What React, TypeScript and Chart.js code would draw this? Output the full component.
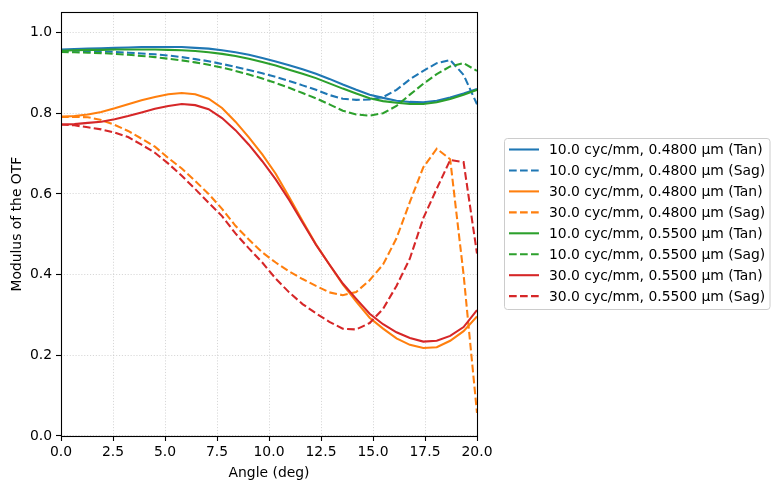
import { useEffect, useRef } from "react";
import { Chart, registerables } from "chart.js";

Chart.register(...registerables);

// Field angle samples (deg)
const angleDeg = [
  0, 0.645, 1.29, 1.935, 2.581, 3.226, 3.871, 4.516, 5.161, 5.806, 6.452, 7.097,
  7.742, 8.387, 9.032, 9.677, 10.323, 10.968, 11.613, 12.258, 12.903, 13.548,
  14.194, 14.839, 15.484, 16.129, 16.774, 17.419, 18.065, 18.71, 19.355, 20.0,
];

// MTF values per frequency / wavelength / orientation
const tan10_480 = [
  0.958, 0.959, 0.96, 0.961, 0.962, 0.963, 0.964, 0.964, 0.964, 0.964, 0.962, 0.96,
  0.956, 0.951, 0.945, 0.937, 0.928, 0.919, 0.909, 0.898, 0.885, 0.871, 0.858, 0.846,
  0.838, 0.831, 0.828, 0.827, 0.831, 0.839, 0.849, 0.86,
];
const sag10_480 = [
  0.955, 0.955, 0.954, 0.953, 0.952, 0.95, 0.948, 0.946, 0.943, 0.939, 0.934, 0.929,
  0.922, 0.915, 0.907, 0.899, 0.89, 0.88, 0.869, 0.858, 0.845, 0.836, 0.833, 0.834,
  0.84, 0.858, 0.884, 0.905, 0.924, 0.932, 0.895, 0.822,
];
const tan30_480 = [
  0.791, 0.793, 0.797, 0.803, 0.812, 0.822, 0.832, 0.84, 0.847, 0.85, 0.847, 0.836,
  0.813, 0.779, 0.74, 0.698, 0.65, 0.592, 0.533, 0.475, 0.425, 0.376, 0.333, 0.293,
  0.266, 0.242, 0.226, 0.218, 0.22, 0.236, 0.26, 0.296,
];
const sag30_480 = [
  0.791, 0.791, 0.79, 0.783, 0.771, 0.756, 0.737, 0.717, 0.689, 0.663, 0.632, 0.6,
  0.563, 0.521, 0.487, 0.455, 0.43, 0.408, 0.389, 0.372, 0.356, 0.349, 0.357, 0.386,
  0.425, 0.49, 0.58, 0.666, 0.712, 0.686, 0.4, 0.057,
];
const tan10_550 = [
  0.955, 0.956, 0.957, 0.957, 0.958, 0.958, 0.958, 0.958, 0.957, 0.956, 0.954, 0.951,
  0.947, 0.942, 0.935, 0.927, 0.918, 0.908, 0.898, 0.887, 0.874, 0.861, 0.849, 0.837,
  0.83, 0.826, 0.823, 0.823, 0.827, 0.835, 0.846, 0.858,
];
const sag10_550 = [
  0.952, 0.951, 0.95, 0.949, 0.947, 0.945, 0.942, 0.939, 0.935, 0.931, 0.926, 0.92,
  0.913, 0.905, 0.896, 0.886, 0.875, 0.863, 0.85, 0.837, 0.822, 0.806, 0.797, 0.794,
  0.8, 0.818, 0.846, 0.873, 0.897, 0.916, 0.924, 0.905,
];
const tan30_550 = [
  0.772, 0.773, 0.776, 0.779, 0.785, 0.793, 0.802, 0.811, 0.818, 0.823, 0.82, 0.81,
  0.788, 0.758, 0.722, 0.681, 0.636, 0.585, 0.529, 0.474, 0.425, 0.378, 0.34, 0.303,
  0.277, 0.257, 0.243, 0.234, 0.236, 0.248, 0.27, 0.312,
];
const sag30_550 = [
  0.772, 0.77, 0.765, 0.76, 0.752, 0.741, 0.722, 0.702, 0.675, 0.645, 0.612, 0.578,
  0.545, 0.502, 0.465, 0.43, 0.39, 0.356, 0.327, 0.304, 0.283, 0.266, 0.264, 0.28,
  0.315, 0.372, 0.44, 0.54, 0.613, 0.684, 0.679, 0.452,
];

const seriesLabels = [
  "10.0 cyc/mm, 0.4800 µm (Tan)",
  "10.0 cyc/mm, 0.4800 µm (Sag)",
  "30.0 cyc/mm, 0.4800 µm (Tan)",
  "30.0 cyc/mm, 0.4800 µm (Sag)",
  "10.0 cyc/mm, 0.5500 µm (Tan)",
  "10.0 cyc/mm, 0.5500 µm (Sag)",
  "30.0 cyc/mm, 0.5500 µm (Tan)",
  "30.0 cyc/mm, 0.5500 µm (Sag)",
];
const seriesValues = [
  tan10_480, sag10_480, tan30_480, sag30_480,
  tan10_550, sag10_550, tan30_550, sag30_550,
];
const seriesColors = [
  "#1f77b4", "#1f77b4", "#ff7f0e", "#ff7f0e",
  "#2ca02c", "#2ca02c", "#d62728", "#d62728",
];

const FONT = "'DejaVu Sans', sans-serif";
const LINE_W = 2.08;
const DASH = [7.7, 3.3];

// Full frame around the plot area
const framePlugin = {
  id: "frame",
  afterDatasetsDraw(chart: any) {
    const { ctx, chartArea: a } = chart;
    ctx.save();
    ctx.strokeStyle = "#000";
    ctx.lineWidth = 1.1;
    ctx.strokeRect(Math.round(a.left) + 0.5, Math.round(a.top) + 0.5,
      Math.round(a.right - a.left), Math.round(a.bottom - a.top));
    ctx.restore();
  },
};

// Legend box placed to the right of the axes
const sideLegendPlugin = {
  id: "sideLegend",
  afterDraw(chart: any) {
    const { ctx } = chart;
    const datasets = chart.data.datasets;
    const x0 = 504.5, y0 = 138.5, w = 265.5, h = 171;
    ctx.save();
    ctx.beginPath();
    ctx.roundRect(x0, y0, w, h, 3);
    ctx.fillStyle = "rgba(255,255,255,0.8)";
    ctx.fill();
    ctx.strokeStyle = "#cccccc";
    ctx.lineWidth = 1;
    ctx.stroke();
    ctx.font = `13.9px ${FONT}`;
    ctx.textBaseline = "middle";
    ctx.textAlign = "left";
    datasets.forEach((ds: any, k: number) => {
      const y = 149.5 + k * 20.95;
      ctx.beginPath();
      ctx.setLineDash(ds.borderDash || []);
      ctx.strokeStyle = ds.borderColor;
      ctx.lineWidth = LINE_W;
      ctx.moveTo(509, y);
      ctx.lineTo(539, y);
      ctx.stroke();
      ctx.setLineDash([]);
      ctx.fillStyle = "#000";
      ctx.fillText(ds.label, 549, y + 1);
    });
    ctx.restore();
  },
};

export default function App() {
  const canvasRef = useRef<HTMLCanvasElement | null>(null);

  useEffect(() => {
    if (!canvasRef.current) return;
    const datasets = seriesLabels.map((label, i) => ({
      label,
      data: angleDeg.map((x, j) => ({ x, y: seriesValues[i][j] })),
      borderColor: seriesColors[i],
      backgroundColor: seriesColors[i],
      borderWidth: LINE_W,
      borderDash: label.includes("(Sag)") ? DASH : [],
      pointRadius: 0,
      tension: 0,
      fill: false,
      order: seriesLabels.length - 1 - i,
    }));

    const gridOpts = {
      color: "rgba(176,176,176,0.5)",
      lineWidth: 1,
      drawTicks: true,
      tickLength: 5,
      tickColor: "#000",
      tickWidth: 1.1,
    };

    const chart = new Chart(canvasRef.current, {
      type: "line",
      data: { datasets },
      options: {
        animation: false,
        responsive: true,
        maintainAspectRatio: false,
        devicePixelRatio: 1,
        layout: { padding: { left: 0, right: 302, top: 11, bottom: 0 } },
        plugins: {
          legend: { display: false },
          tooltip: { enabled: false },
        },
        scales: {
          x: {
            type: "linear",
            min: 0,
            max: 20,
            afterFit: (s: any) => { s.height = 54; },
            ticks: {
              stepSize: 2.5,
              color: "#000",
              font: { family: FONT, size: 13.9 },
              padding: 3,
              maxRotation: 0,
              callback: (v: any) => Number(v).toFixed(1),
            },
            grid: gridOpts,
            border: { display: false, dash: [1.1, 1.8] },
            title: {
              display: true,
              text: "Angle (deg)",
              color: "#000",
              font: { family: FONT, size: 13.9 },
              padding: { top: 0, bottom: 8 },
            },
          },
          y: {
            type: "linear",
            min: 0,
            max: 1.05,
            afterFit: (s: any) => { s.width = 61; },
            ticks: {
              stepSize: 0.2,
              includeBounds: false,
              color: "#000",
              font: { family: FONT, size: 13.9 },
              padding: 4,
              callback: (v: any) => Number(v).toFixed(1),
            },
            grid: gridOpts,
            border: { display: false, dash: [1.1, 1.8] },
            title: {
              display: true,
              text: "Modulus of the OTF",
              color: "#000",
              font: { family: FONT, size: 13.9 },
              padding: { top: 9, bottom: 0 },
            },
          },
        },
      },
      plugins: [framePlugin, sideLegendPlugin],
    });
    return () => chart.destroy();
  }, []);

  return (
    <div
      style={{
        position: "fixed",
        left: 0,
        top: 0,
        width: 779,
        height: 490,
        background: "#fff",
      }}
    >
      <canvas ref={canvasRef} />
    </div>
  );
}
